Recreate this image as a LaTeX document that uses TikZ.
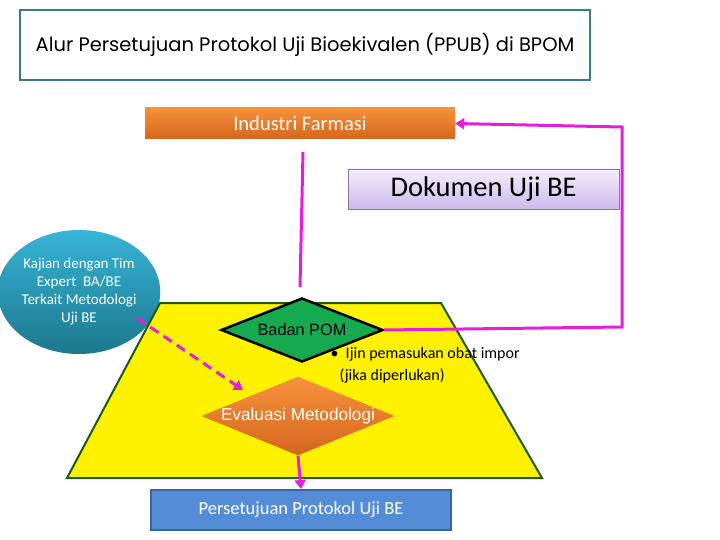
\documentclass[tikz,border=0pt]{standalone}
\usepackage{fontspec}
\setmainfont{Carlito}
\newfontfamily\titlefont{Poppins}
\newfontfamily\arialf{Liberation Sans}
\usetikzlibrary{shapes.geometric,arrows.meta}
\definecolor{mag}{HTML}{E81BE0}
\definecolor{orgA}{HTML}{F7923A}
\definecolor{orgB}{HTML}{D5661E}
\tikzset{
  con/.style={draw=mag,line width=3pt},
  arr/.style={con,-{Triangle[length=9pt,width=11pt]}},
}
\begin{document}
\begin{tikzpicture}[x=1pt,y=-1pt]
\useasboundingbox (0,0) rectangle (720,540);
\node[draw={rgb,255:red,58;green,122;blue,138},line width=2pt,minimum width=570pt,minimum height=70pt] (title) at (305,45)
  {\titlefont\fontsize{19.5}{22}\selectfont Alur Persetujuan Protokol Uji Bioekivalen (PPUB) di BPOM};
\node[top color=orgA,bottom color=orgB,minimum width=310pt,minimum height=31pt,text=white,font=\fontsize{20.5}{22}\selectfont] (ind) at (300,123.5) {Industri Farmasi};
\node[draw={rgb,255:red,140;green,120;blue,170},top color={rgb,255:red,245;green,238;blue,252},bottom color={rgb,255:red,205;green,185;blue,235},minimum width=271pt,minimum height=40pt,font=\fontsize{28.5}{30}\selectfont] (dok) at (483.5,189) {Dokumen Uji BE};
\node[ellipse,top color={rgb,255:red,55;green,180;blue,215},bottom color={rgb,255:red,28;green,120;blue,140},minimum width=138pt,minimum height=124pt,inner sep=0pt,text=white,align=center,font=\fontsize{15}{18}\selectfont] (kaj) at (79,292) {Kajian dengan Tim\\Expert \ BA/BE\\Terkait Metodologi\\Uji BE};
\path[fill=yellow,draw={rgb,255:red,30;green,90;blue,20},line width=2pt] (160,303) -- (441,303) -- (542,478) -- (67,478) -- cycle;
\node[diamond,aspect=2.5,draw=black,line width=2.5pt,fill={rgb,255:red,22;green,170;blue,80},minimum width=162pt,minimum height=64pt,inner sep=0pt,font=\arialf\fontsize{16.3}{18}\selectfont] (pom) at (302,330) {Badan POM};
\node[anchor=west,font=\fontsize{16}{18}\selectfont] (ijin1) at (327,354) {\textbullet\ \ Ijin pemasukan obat impor};
\node[anchor=west,font=\fontsize{16}{18}\selectfont] (ijin2) at (336,376) {(jika diperlukan)};
\node[diamond,aspect=2.45,top color=orgA,bottom color=orgB,minimum width=190pt,minimum height=78pt,inner sep=0pt,text=white,font=\arialf\fontsize{17.2}{19}\selectfont] (eva) at (298,416) {Evaluasi Metodologi};
\node[draw={rgb,255:red,60;green,100;blue,160},line width=2pt,fill={rgb,255:red,85;green,140;blue,215},minimum width=300pt,minimum height=40pt,text=white,font=\fontsize{18.5}{20}\selectfont] (per) at (301,510) {Persetujuan Protokol Uji BE};
\coordinate (l1) at (303,152);
\coordinate (l2) at (300,287);
\draw[con] (l1) -- (l2);
\coordinate (c1) at (622,327);
\coordinate (c2) at (622,127);
\draw[arr] (pom.east) -- (c1) -- (c2) -- (ind.east);
\coordinate (d1) at (137,318);
\coordinate (d2) at (243,390);
\draw[arr,dashed,dash pattern=on 10pt off 6pt] (d1) -- (d2);
\draw[arr] (eva.south) -- (per.north);
\end{tikzpicture}
\end{document}
